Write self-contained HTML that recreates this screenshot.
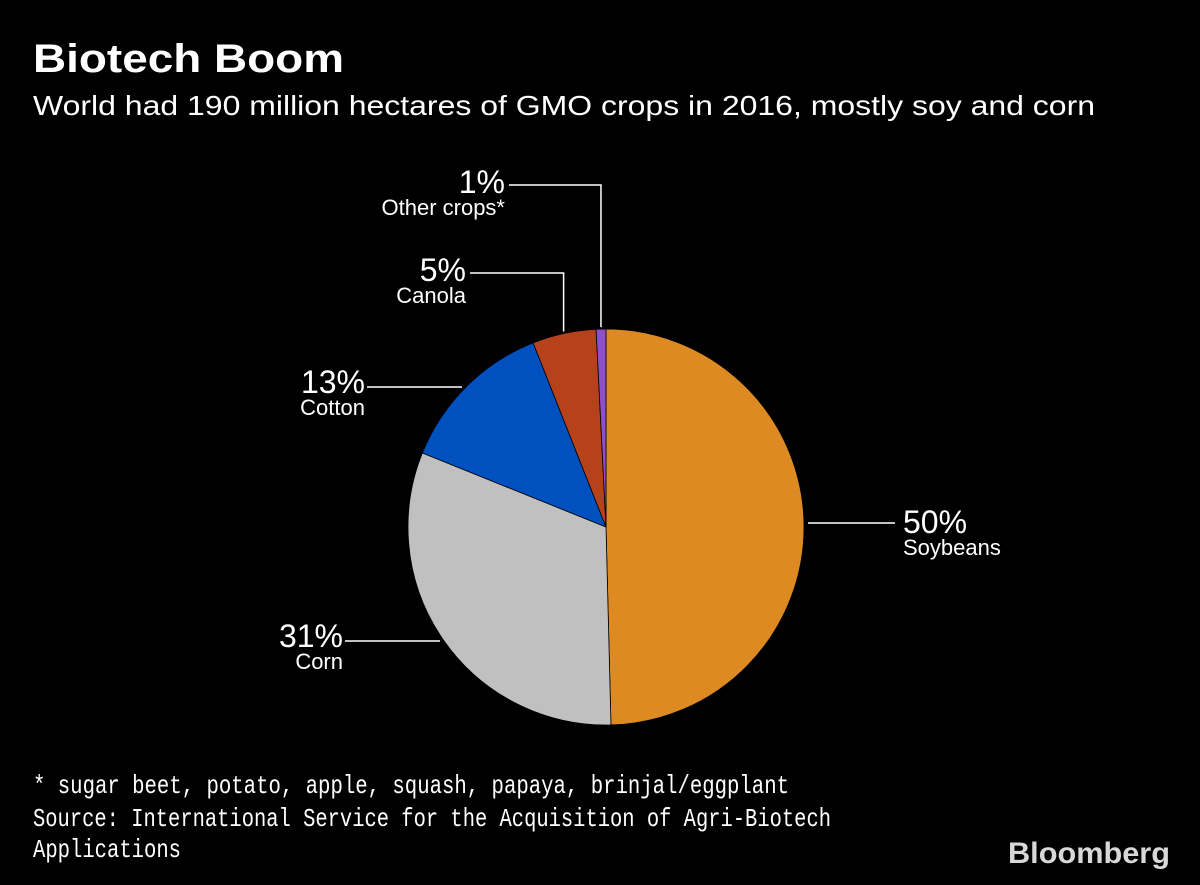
<!DOCTYPE html>
<html><head><meta charset="utf-8"><style>
html,body{margin:0;padding:0;background:#000;}
svg{display:block;}
text{font-family:"Liberation Sans Narrow","Liberation Sans",sans-serif;fill:#fff;}
</style></head><body>
<svg id="chart" width="1200" height="885" viewBox="0 0 1200 885">
<rect width="1200" height="885" fill="#000"/>
<text x="33" y="72" font-size="40" font-weight="bold" style="font-family:'Liberation Sans',sans-serif" textLength="311" lengthAdjust="spacingAndGlyphs">Biotech Boom</text>
<text x="33" y="115" font-size="28" style="font-family:'Liberation Sans',sans-serif" textLength="1062" lengthAdjust="spacingAndGlyphs">World had 190 million hectares of GMO crops in 2016, mostly soy and corn</text>
<g id="slices"></g>
<g id="labels"></g>
<text x="33" y="793" font-size="26" style="font-family:'Liberation Mono',monospace" textLength="756" lengthAdjust="spacingAndGlyphs">* sugar beet, potato, apple, squash, papaya, brinjal/eggplant</text>
<text x="33" y="826" font-size="26" style="font-family:'Liberation Mono',monospace" textLength="798" lengthAdjust="spacingAndGlyphs">Source: International Service for the Acquisition of Agri-Biotech</text>
<text x="33" y="857" font-size="26" style="font-family:'Liberation Mono',monospace" textLength="148" lengthAdjust="spacingAndGlyphs">Applications</text>
<text x="1008" y="863" font-size="30" font-weight="bold" style="font-family:'Liberation Sans',sans-serif;fill:#d8d8d8" textLength="162" lengthAdjust="spacingAndGlyphs">Bloomberg</text>
</svg>
<script>
const categories = ["Soybeans","Corn","Cotton","Canola","Other crops*"];
const values = [49.6, 31.5, 12.9, 5.2, 0.8];
const valueLabels = ["50%","31%","13%","5%","1%"];
const colors = ["#dd8a23","#c0c0c0","#0050c0","#b5421b","#8e4fc8"];
const NS="http://www.w3.org/2000/svg";
const cx=606, cy=527, r=198;
const total=values.reduce((a,b)=>a+b,0);
const sg=document.getElementById('slices'), lg=document.getElementById('labels');
function pt(a,rr){return [cx+rr*Math.sin(a), cy-rr*Math.cos(a)];}
let acc=0;
const mids=[];
values.forEach((v,i)=>{
  const a0=acc/total*2*Math.PI; acc+=v; const a1=acc/total*2*Math.PI;
  mids.push((a0+a1)/2);
  const p0=pt(a0,r), p1=pt(a1,r);
  const large=(a1-a0)>Math.PI?1:0;
  const path=document.createElementNS(NS,'path');
  path.setAttribute('d',`M${cx},${cy} L${p0[0]},${p0[1]} A${r},${r} 0 ${large} 1 ${p1[0]},${p1[1]} Z`);
  path.setAttribute('fill',colors[i]);
  path.setAttribute('stroke','#000');
  path.setAttribute('stroke-width','0.8');
  
  
  sg.appendChild(path);
});
const layout=[
  {lineY:523, side:'right', tx:903, ty:533, ex:895},
  {lineY:641, side:'left', tx:343, ty:647, ex:345},
  {lineY:387, side:'left', tx:365, ty:393, ex:367},
  {elbowY:273, side:'left', tx:466, ty:281, ex:470},
  {elbowY:185, side:'left', tx:505, ty:193, ex:509}
];
function txt(x,y,s,size,anchor,name){
  const t=document.createElementNS(NS,'text');
  t.setAttribute('x',x);t.setAttribute('y',y);t.setAttribute('font-size',size);
  t.setAttribute('text-anchor',anchor);t.textContent=s;
  
  
  lg.appendChild(t);
}
function line(pts,name){
  const l=document.createElementNS(NS,'polyline');
  l.setAttribute('points',pts.map(p=>p.join(',')).join(' '));
  l.setAttribute('fill','none');l.setAttribute('stroke','#fff');l.setAttribute('stroke-width','1.5');
  
  
  lg.appendChild(l);
}
categories.forEach((c,i)=>{
  const L=layout[i], m=mids[i];
  const key=c.toLowerCase().replace(/[^a-z]+/g,'-').replace(/-$/,'');
  if(L.elbowY!=null){
    const p=pt(m,r+2);
    line([[L.ex,L.elbowY],[p[0],L.elbowY],[p[0],p[1]]],'leader-'+key);
  } else {
    const y=L.lineY;
    const xEdge=cx+Math.sqrt(Math.max(0,r*r-(y-cy)*(y-cy)))*(L.side==='right'?1:-1);
    line([[xEdge+(L.side==='right'?4:-4),y],[L.ex,y]],'leader-'+key);
  }
  const anchor=L.side==='right'?'start':'end';
  txt(L.tx,L.ty,valueLabels[i],32,anchor,'value-label-'+key);
  txt(L.tx,L.ty+22,c,22,anchor,'category-label-'+key);
});
</script>
</body></html>
